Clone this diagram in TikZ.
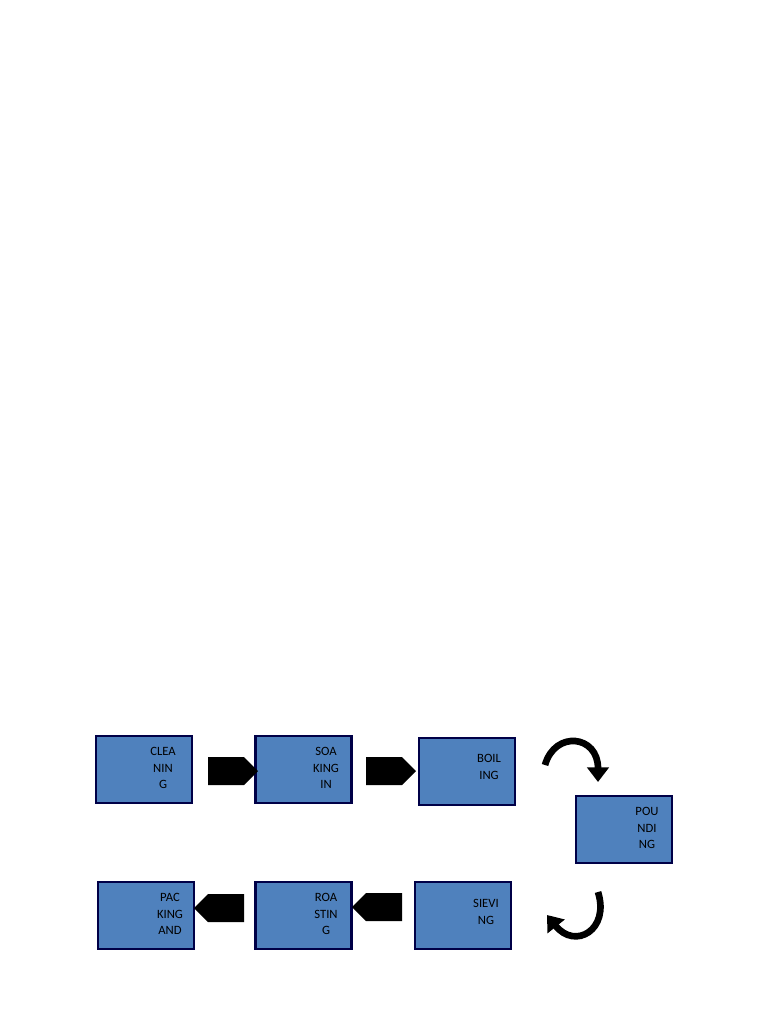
\documentclass[tikz,border=0pt]{standalone}
\usepackage{fontspec}
\setmainfont{Carlito}
\usetikzlibrary{arrows.meta,shapes.arrows}
\begin{document}
\begin{tikzpicture}[x=0.75pt,y=-0.75pt]
\tikzset{
 stepbox/.style={draw=black!30!blue!40!black, line width=1.6pt, fill={rgb,255:red,79;green,129;blue,189}, minimum width=72pt, minimum height=50pt, inner sep=0pt},
 lbl/.style={font=\fontsize{9.5}{12.5}\selectfont, align=center},
 blk/.style={single arrow, fill=black, draw=none, minimum width=21pt, single arrow head extend=0pt, single arrow tip angle=90, minimum height=37.5pt, inner sep=0pt, single arrow head indent=0pt},
 curv/.style={line width=5pt, -{Triangle[length=11pt,width=16pt]}}
}
\useasboundingbox (0,0) rectangle (768,1024);
\node[stepbox] (a) at (144,769.5) {};
\node[stepbox] (b) at (303.5,769.5) {};
\node[stepbox] (c) at (467,771.5) {};
\node[stepbox] (d) at (624,829.5) {};
\node[stepbox] (e) at (463,915.5) {};
\node[stepbox] (f) at (303.5,915.5) {};
\node[stepbox] (g) at (146,915.5) {};
\node[lbl] at (163,768) {CLEA\\NIN\\G};
\node[lbl] at (326,768) {SOA\\KING\\IN};
\node[lbl] at (489,767) {BOIL\\ING};
\node[lbl] at (647,828) {POU\\NDI\\NG};
\node[lbl] at (486,912) {SIEVI\\NG};
\node[lbl] at (326,914) {ROA\\STIN\\G};
\node[lbl] at (170,914) {PAC\\KING\\AND};
\node[blk] (ab) at (226,771) {};
\node[blk] (bc) at (384,771) {};
\node[blk, shape border rotate=180] (gf) at (226,908) {};
\node[blk, shape border rotate=180] (fe) at (384,907) {};
\coordinate (t1) at (545,765);
\coordinate (t2) at (598,782);
\draw[curv] (t1) .. controls (555,730) and (598,735) .. (t2);
\coordinate (u1) at (598,892);
\coordinate (u2) at (547,915);
\draw[curv] (u1) .. controls (610,930) and (575,950) .. (u2);
\end{tikzpicture}
\end{document}
